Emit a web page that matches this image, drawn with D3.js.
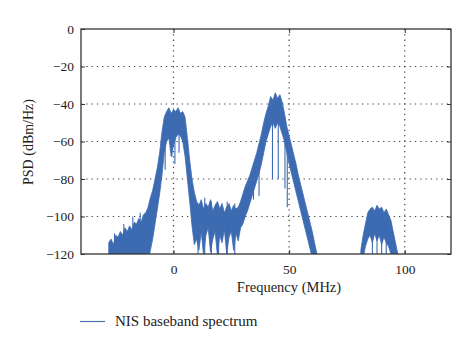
<!DOCTYPE html>
<html>
<head>
<meta charset="utf-8">
<script src="https://cdn.jsdelivr.net/npm/d3@7"></script>
<style>
  body { margin: 0; background: #fff; }
  svg text { font-family: "Liberation Serif", "DejaVu Serif", serif; fill: #222; }
</style>
</head>
<body>
<div id="chart"></div>
<script>
// frequency grid (MHz), 1 MHz steps
var freqMHz = d3.range(-28, 98);

// upper envelope of the PSD trace (dBm/Hz), null where no trace
var psdMax = [
  -114, -112, -115, -110, -111, -108, -110, -106, -108, -105,   // -28..-19
  -107, -103, -104, -101, -103,  -99,  -98,  -95,  -90,  -86,   // -18..-9
   -80,  -74,  -66,  -55,  -47,  -44,  -42,  -45,  -43,  -44,   // -8..1
   -42,  -45,  -44,  -47,  -58,  -70,  -80,  -87,  -92,  -94,   // 2..11
   -91,  -96,  -93,  -95,  -91,  -97,  -94,  -92,  -96,  -93,   // 12..21
   -98,  -95,  -93,  -97,  -94,  -96,  -95,  -92,  -88,  -84,   // 22..31
   -81,  -78,  -74,  -70,  -66,  -61,  -56,  -50,  -45,  -41,   // 32..41
   -36,  -38,  -34,  -37,  -35,  -39,  -45,  -52,  -57,  -62,   // 42..51
   -67,  -72,  -78,  -83,  -88,  -93,  -98, -103, -108, -114,   // 52..61
  -120, null, null, null, null, null, null, null, null, null,   // 62..71
  null, null, null, null, null, null, null, null, null, -118,   // 72..81
  -110, -104,  -98,  -96,  -95,  -97,  -94,  -96,  -95,  -98,   // 82..91
   -96,  -99, -102, -108, -114, -120                            // 92..97
];

// lower envelope of the PSD trace (dBm/Hz)
var psdMin = [
  -125, -125, -125, -125, -125, -125, -125, -125, -125, -125,   // -28..-19
  -125, -125, -125, -125, -125, -125, -125, -125, -118, -112,   // -18..-9
  -104,  -96,  -88,  -78,  -66,  -60,  -58,  -68,  -62,  -58,   // -8..1
   -56,  -57,  -60,  -68,  -80,  -92, -105, -115, -112, -118,   // 2..11
  -108, -121, -110, -106, -119, -112, -108, -121, -110, -114,   // 12..21
  -107, -120, -111, -108, -118, -109, -113, -106, -104, -100,   // 22..31
   -97,  -93,  -89,  -85,  -81,  -77,  -72,  -66,  -60,  -56,   // 32..41
   -52,  -50,  -53,  -50,  -52,  -56,  -60,  -66,  -72,  -77,   // 42..51
   -82,  -87,  -92,  -97, -102, -107, -112, -117, -122, -125,   // 52..61
  -125, null, null, null, null, null, null, null, null, null,   // 62..71
  null, null, null, null, null, null, null, null, null, -125,   // 72..81
  -122, -116, -112, -110, -114, -109, -113, -110, -115, -111,   // 82..91
  -114, -116, -120, -124, -125, -125                            // 92..97
];

// deep dips and spikes in the trace: frequency, top and bottom (dBm/Hz)
var dipFreq = [-25.5, -21.5, -17.6, -14.4, -3.6, -0.7, 0.6, 2.4, 10.6, 13.5, 16.4, 19.5, 23.2, 26.5, 34.6, 37.0, 42.8, 45.3, 48.2, 49.2, 86, 88, 90, 92];
var dipTop  = [-109, -104, -100, -98, -50, -46, -47, -48, -93, -90, -92, -94, -92, -93, -76, -62, -40, -39, -48, -54, -100, -98, -99, -100];
var dipBot  = [-125, -125, -125, -125, -75, -68, -72, -66, -122, -124, -124, -124, -124, -123, -91, -89, -80, -80, -85, -95, -124, -124, -124, -124];

var xTicks = [0, 50, 100];
var yTicks = [0, -20, -40, -60, -80, -100, -120];

var margin = {top: 29, right: 23, bottom: 97, left: 81},
    width = 474 - margin.left - margin.right,
    height = 351 - margin.top - margin.bottom;

var traceColor = "#3d6bb2";

var svg = d3.select("#chart")
  .append("svg")
    .attr("width", 474)
    .attr("height", 351);

var g = svg.append("g")
    .attr("transform", "translate(" + margin.left + "," + margin.top + ")");

var x = d3.scaleLinear().domain([-40, 120]).range([0, width]);
var y = d3.scaleLinear().domain([-120, 0]).range([height, 0]);

// dotted grid
g.append("g")
  .selectAll("line")
  .data(xTicks)
  .enter().append("line")
    .attr("x1", function(d) { return x(d); })
    .attr("x2", function(d) { return x(d); })
    .attr("y1", 0).attr("y2", height)
    .attr("stroke", "#444").attr("stroke-width", 1.2)
    .attr("stroke-dasharray", "1.3,4");

g.append("g")
  .selectAll("line")
  .data(yTicks.slice(1, -1))
  .enter().append("line")
    .attr("x1", 0).attr("x2", width)
    .attr("y1", function(d) { return y(d); })
    .attr("y2", function(d) { return y(d); })
    .attr("stroke", "#444").attr("stroke-width", 1.2)
    .attr("stroke-dasharray", "1.3,4");

// clip to plot area
g.append("clipPath").attr("id", "clip")
  .append("rect").attr("width", width).attr("height", height);

var pts = freqMHz.map(function(f, i) { return {f: f, hi: psdMax[i], lo: psdMin[i]}; });

var area = d3.area()
    .defined(function(d) { return d.hi != null; })
    .x(function(d) { return x(d.f); })
    .y0(function(d) { return y(d.lo); })
    .y1(function(d) { return y(d.hi); });

var plot = g.append("g").attr("clip-path", "url(#clip)");

plot.append("path")
    .datum(pts)
    .attr("d", area)
    .attr("fill", traceColor)
    .attr("stroke", traceColor)
    .attr("stroke-width", 0.8)
    .attr("stroke-linejoin", "miter");

plot.selectAll(".dip")
  .data(dipFreq)
  .enter().append("line")
    .attr("class", "dip")
    .attr("x1", function(d) { return x(d); })
    .attr("x2", function(d) { return x(d); })
    .attr("y1", function(d, i) { return y(dipTop[i]); })
    .attr("y2", function(d, i) { return y(dipBot[i]); })
    .attr("stroke", traceColor)
    .attr("stroke-width", 1.1);

// axes with inward ticks
var fmt = function(d) { return d < 0 ? "\u2212" + Math.abs(d) : d; };

g.append("g")
    .attr("transform", "translate(0," + height + ")")
    .call(d3.axisBottom(x).tickValues(xTicks).tickSizeInner(-4).tickSizeOuter(0).tickPadding(10).tickFormat(fmt));
g.append("g")
    .call(d3.axisLeft(y).tickValues(yTicks).tickSizeInner(-4).tickSizeOuter(0).tickPadding(7).tickFormat(fmt));
g.append("g")
    .call(d3.axisTop(x).tickValues(xTicks).tickSizeInner(-4).tickSizeOuter(0).tickFormat(""));
g.append("g")
    .attr("transform", "translate(" + width + ",0)")
    .call(d3.axisRight(y).tickValues(yTicks).tickSizeInner(-4).tickSizeOuter(0).tickFormat(""));

g.selectAll(".domain").remove();
g.selectAll(".tick line").attr("stroke", "#333");
g.selectAll(".tick text").attr("font-size", "13.5px").attr("fill", "#222");

g.append("rect")
    .attr("width", width).attr("height", height)
    .attr("fill", "none").attr("stroke", "#333").attr("stroke-width", 1.3);

// axis titles
svg.append("text")
    .attr("x", 289).attr("y", 292)
    .attr("text-anchor", "middle")
    .attr("font-size", "14.5px")
    .text("Frequency (MHz)");

svg.append("text")
    .attr("transform", "translate(33,142) rotate(-90)")
    .attr("text-anchor", "middle")
    .attr("font-size", "14px")
    .text("PSD (dBm/Hz)");

// legend
svg.append("line")
    .attr("x1", 80).attr("x2", 105)
    .attr("y1", 321.5).attr("y2", 321.5)
    .attr("stroke", "#4a6fb3").attr("stroke-width", 1.2);
svg.append("text")
    .attr("x", 115).attr("y", 326)
    .attr("font-size", "15px")
    .text("NIS baseband spectrum");
</script>
</body>
</html>
